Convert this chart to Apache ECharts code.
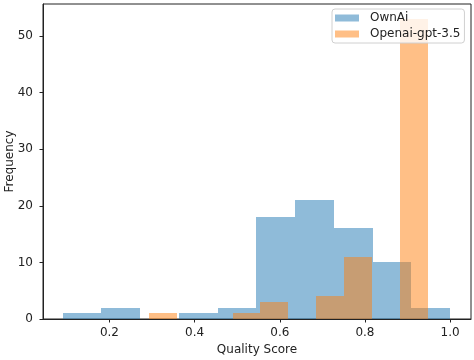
<!DOCTYPE html>
<html>
<head>
<meta charset="utf-8">
<script src="https://cdn.jsdelivr.net/npm/echarts@6/dist/echarts.min.js"></script>
<style>html,body{margin:0;padding:0;background:#fff;}#c{width:474px;height:360px;}</style>
</head>
<body>
<div id="c"></div>
<script>
// Bin edges and counts
const ownAiEdges = [0.090, 0.181, 0.272, 0.363, 0.454, 0.545, 0.636, 0.727, 0.818, 0.909, 1.000];
const ownAiCounts = [1, 2, 0, 1, 2, 18, 21, 16, 10, 2];
const openaiEdges = [0.292, 0.358, 0.423, 0.489, 0.554, 0.620, 0.686, 0.751, 0.817, 0.882, 0.948];
const openaiCounts = [1, 0, 0, 1, 3, 0, 4, 11, 0, 53];
const xTicks = [0.2, 0.4, 0.6, 0.8, 1.0];
const yTicks = [0, 10, 20, 30, 40, 50];
const seriesNames = ['OwnAi', 'Openai-gpt-3.5'];

function binData(edges, counts) {
  return counts.map((c, i) => [edges[i], edges[i + 1], c]);
}
function renderBin(params, api) {
  const x0 = api.value(0), x1 = api.value(1), c = api.value(2);
  if (!c) return null;
  const p0 = api.coord([x0, c]);
  const p1 = api.coord([x1, 0]);
  const l = Math.round(p0[0]), r = Math.round(p1[0]);
  const t = Math.round(p0[1]), b = Math.round(p1[1]);
  return {
    type: 'rect',
    shape: { x: l, y: t, width: r - l, height: b - t },
    style: { fill: api.visual('color'), stroke: null, lineWidth: 0 }
  };
}
const font = 'DejaVu Sans';
const fs = 12;
const chart = echarts.init(document.getElementById('c'), null, { renderer: 'canvas' });
chart.setOption({
  animation: false,
  backgroundColor: '#fff',
  grid: { left: 43, right: 3, top: 4, bottom: 41, outerBoundsMode: 'none', containLabel: false,
    show: true, borderColor: '#222', borderWidth: 1, backgroundColor: 'transparent' },
  legend: {
    orient: 'vertical', left: 332, top: 9,
    backgroundColor: 'rgba(255,255,255,0.8)', borderColor: '#d0d0d0', borderWidth: 1, borderRadius: 3,
    padding: [3, 4, 3, 3], itemWidth: 24, itemHeight: 7, itemGap: 4, icon: 'rect',
    textStyle: { fontFamily: font, fontSize: fs, color: '#222', padding: [0, 0, 0, 6] },
    data: seriesNames
  },
  xAxis: {
    type: 'value', min: 0.044, max: 1.049,
    axisLine: { show: true, lineStyle: { color: '#222' } },
    axisTick: { show: true, length: 3.5, lineStyle: { color: '#222' }, customValues: xTicks },
    axisLabel: { fontFamily: font, fontSize: fs, color: '#222', margin: 8, customValues: xTicks, formatter: v => v.toFixed(1) },
    splitLine: { show: false },
    name: 'Quality Score', nameLocation: 'middle', nameGap: 25, nameMoveOverlap: false,
    nameTextStyle: { fontFamily: font, fontSize: fs, color: '#222' }
  },
  yAxis: {
    type: 'value', min: 0, max: 55.65,
    axisLine: { show: true, lineStyle: { color: '#222' } },
    axisTick: { show: true, length: 3.5, lineStyle: { color: '#222' }, customValues: yTicks },
    axisLabel: { fontFamily: font, fontSize: fs, color: '#222', margin: 10, customValues: yTicks },
    splitLine: { show: false },
    name: 'Frequency', nameLocation: 'middle', nameGap: 27, nameMoveOverlap: false,
    nameTextStyle: { fontFamily: font, fontSize: fs, color: '#222' }
  },
  series: [
    { name: seriesNames[0], type: 'custom', renderItem: renderBin, encode: { x: [0, 1], y: 2 },
      itemStyle: { color: 'rgba(31,119,180,0.5)' }, data: binData(ownAiEdges, ownAiCounts) },
    { name: seriesNames[1], type: 'custom', renderItem: renderBin, encode: { x: [0, 1], y: 2 },
      itemStyle: { color: 'rgba(255,127,14,0.5)' }, data: binData(openaiEdges, openaiCounts) }
  ]
});
</script>
</body>
</html>
